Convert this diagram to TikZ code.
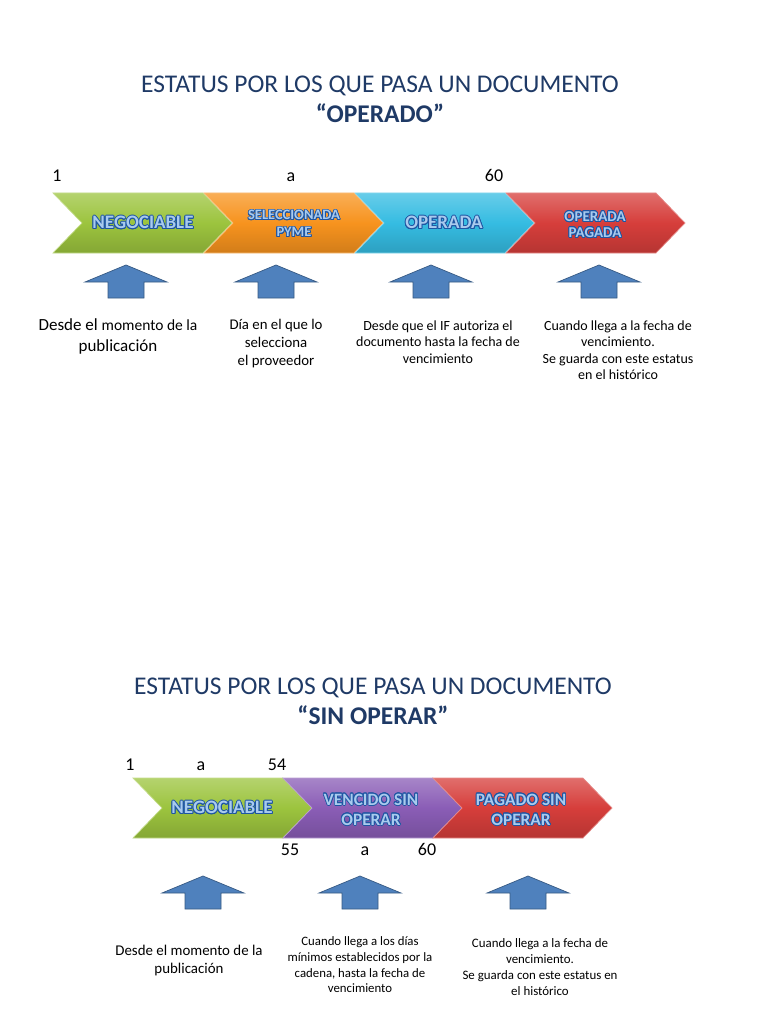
\documentclass[tikz,border=0pt]{standalone}
\usepackage{fontspec}
\setmainfont{Carlito}
\usepackage{contour}
\usetikzlibrary{positioning}

\definecolor{titleblue}{HTML}{1F3A66}
\definecolor{chgreen}{HTML}{9CC43E}
\definecolor{chorange}{HTML}{F7931E}
\definecolor{chcyan}{HTML}{35BCE2}
\definecolor{chred}{HTML}{D63E3B}
\definecolor{chpurple}{HTML}{8A5DB6}
\definecolor{arrowblue}{HTML}{4F81BD}
\definecolor{wafill}{HTML}{A9CBEE}
\definecolor{waline}{HTML}{1F56A3}

\contourlength{0.8pt}
\newcommand{\wa}[1]{\contour{waline}{#1}}
% chevron: left top corner x, y, colour
\newcommand{\chevron}[3]{\shade[chev=#3] (#1,#2) -- ++(150,0) -- ++(29,30) -- ++(-29,30) -- ++(-150,0) -- ++(29,-30) -- cycle;}
% block arrow pointing up: tip x, y
\newcommand{\uparr}[2]{\filldraw[uparrow] (#1,#2) -- ++(41,17) -- ++(-23,0) -- ++(0,16) -- ++(-36,0) -- ++(0,-16) -- ++(-23,0) -- cycle;}

\begin{document}
\begin{tikzpicture}[x=1pt,y=-1pt,
    chev/.style={draw=#1!60!white, line width=0.7pt, top color=#1!75!white, bottom color=#1!85!black, middle color=#1},
    uparrow/.style={fill=arrowblue, draw=arrowblue!70!black, line width=0.7pt},
    wordart/.style={font=\bfseries\fontsize{19}{20}\selectfont, text=wafill, align=center},
    smallart/.style={font=\bfseries\fontsize{15}{16}\selectfont, text=wafill, align=center},
    title/.style={font=\fontsize{25.5}{30}\selectfont, text=titleblue, align=center},
    num/.style={font=\fontsize{18}{20}\selectfont, anchor=base},
    desc/.style={font=\fontsize{14}{16.5}\selectfont, align=center}]

    \useasboundingbox[fill=white] (0,0) rectangle (768,1024);

    % Title operado
    \node[title] (title1) at (380,99) {ESTATUS POR LOS QUE PASA UN DOCUMENTO\\\textbf{“OPERADO”}};

    % Day numbers
    \node[num] (d1) at (57,182) {1};
    \node[num] (da) at (291,182) {a};
    \node[num] (d60) at (494,182) {60};

    % Chevrons
    \foreach \x/\c in {53/chgreen, 204/chorange, 355/chcyan, 506/chred}
        \chevron{\x}{193}{\c};

    \node[wordart] (neg1) at (143,223) {\wa{NEGOCIABLE}};
    \node[smallart, font=\bfseries\fontsize{14.5}{17}\selectfont] (sel) at (294,224) {\wa{SELECCIONADA}\\\wa{PYME}};
    \node[wordart] (ope) at (444,223) {\wa{OPERADA}};
    \node[smallart] (pag) at (595,225) {\wa{OPERADA}\\\wa{PAGADA}};

    % Arrows
    \foreach \x in {126,276,431,599}
        \uparr{\x}{265};

    % Descriptions
    \node[desc, font=\fontsize{17}{21}\selectfont] (t1) at (118,336) {Desde el {\fontsize{15.5}{21}\selectfont momento de la}\\publicación};
    \node[desc, font=\fontsize{14.8}{18}\selectfont] (t2) at (276,344) {Día en el que lo\\selecciona\\el proveedor};
    \node[desc] (t3) at (438,342) {Desde que el IF autoriza el\\documento hasta la fecha de\\vencimiento};
    \node[desc] (t4) at (618,350) {Cuando llega a la fecha de\\vencimiento.\\Se guarda con este estatus\\en el histórico};

    % Title sin operar
    \node[title] (title2) at (373,701) {ESTATUS POR LOS QUE PASA UN DOCUMENTO\\\textbf{“SIN OPERAR”}};

    % Day numbers
    \node[num] (e1) at (130,770) {1};
    \node[num] (ea) at (201,770) {a};
    \node[num] (e54) at (277,770) {54};
    \node[num] (e55) at (290,855) {55};
    \node[num] (eb) at (365,855) {a};
    \node[num] (e60) at (427,855) {60};

    % Chevrons
    \foreach \x/\c in {133/chgreen, 283/chpurple, 433/chred}
        \chevron{\x}{778}{\c};

    \node[wordart] (neg2) at (222,808) {\wa{NEGOCIABLE}};
    \node[smallart, font=\bfseries\fontsize{17.3}{20}\selectfont] (ven) at (371,810) {\wa{VENCIDO SIN}\\\wa{OPERAR}};
    \node[smallart, font=\bfseries\fontsize{17.3}{20}\selectfont] (psin) at (521,810) {\wa{PAGADO SIN}\\\wa{OPERAR}};

    % Arrows
    \foreach \x in {203,360,528}
        \uparr{\x}{876};

    % Descriptions
    \node[desc, font=\fontsize{14.9}{18}\selectfont] (s1) at (189,961) {Desde el momento de la\\publicación};
    \node[desc, font=\fontsize{12.8}{15.7}\selectfont] (s2) at (360,965) {Cuando llega a los días\\mínimos establecidos por la\\cadena, hasta la fecha de\\vencimiento};
    \node[desc, font=\fontsize{12.9}{16}\selectfont] (s3) at (540,967) {Cuando llega a la fecha de\\vencimiento.\\Se guarda con este estatus en\\el histórico};
\end{tikzpicture}
\end{document}
